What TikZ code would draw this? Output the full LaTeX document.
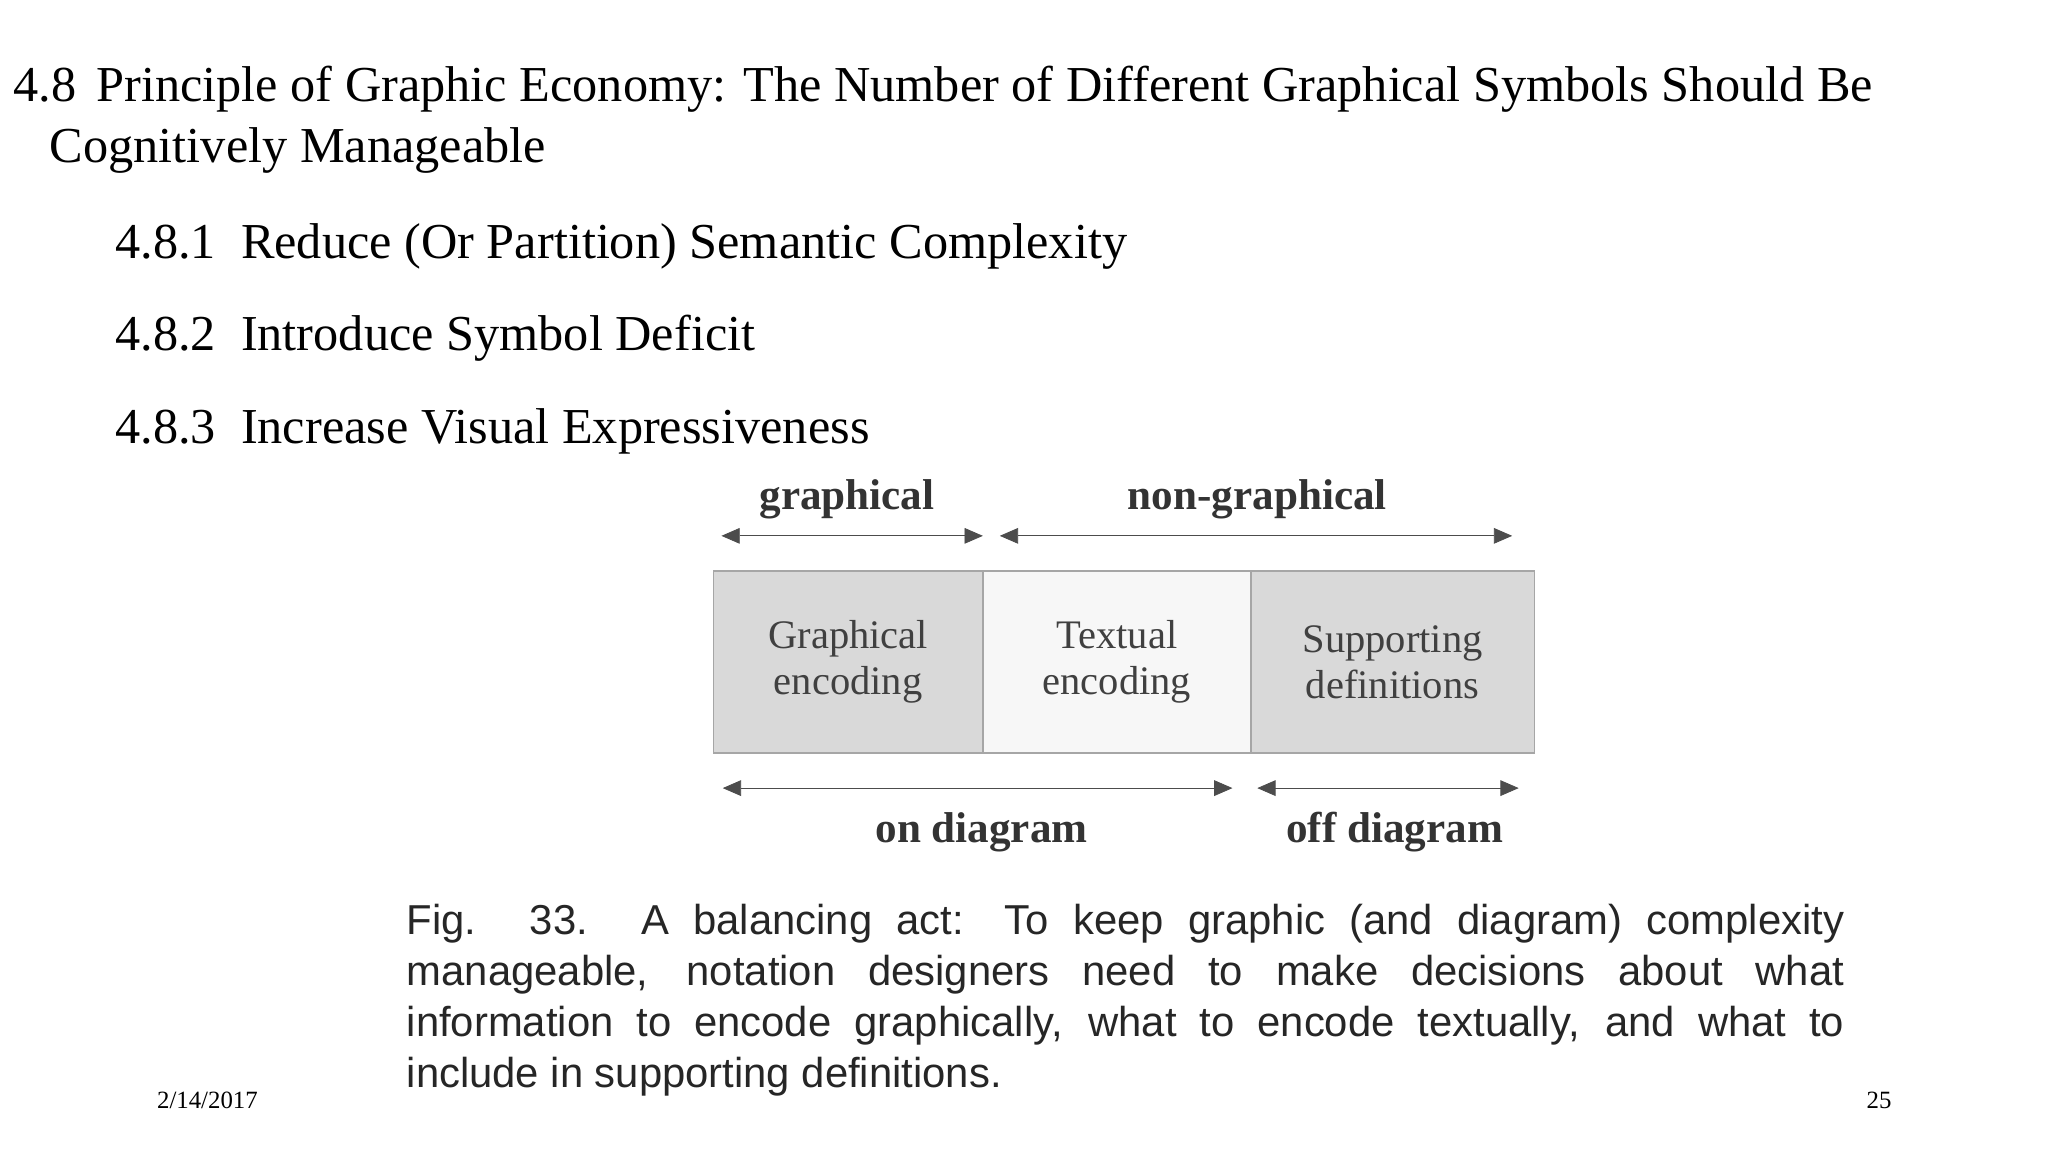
\documentclass[tikz,border=0pt]{standalone}
\usepackage{fontspec}
\setmainfont{Liberation Serif}
\newfontfamily\capfont{Liberation Sans}
\usetikzlibrary{arrows.meta}
\tikzset{
  head/.style={anchor=base west,inner sep=0,font=\fontsize{38.5}{44}\selectfont},
  cell/.style={draw=gray!70,line width=1.2pt,minimum height=139pt,inner sep=0,text=black!75,align=center,font=\fontsize{31}{35}\selectfont},
  lab/.style={font=\bfseries\fontsize{33}{36}\selectfont,text=black!80,inner sep=0},
  span/.style={{Triangle[length=14pt,width=12pt]}-{Triangle[length=14pt,width=12pt]},line width=0.6pt,gray!60!black},
}
\begin{document}
\begin{tikzpicture}[x=1pt,y=-1pt]
\useasboundingbox[fill=white] (0,0) rectangle (1567,881);
\node[head] (t1) at (10,78) {4.8\hspace{0.4em}Principle of Graphic Economy: The Number of Different Graphical Symbols Should Be};
\node[head] (t2) at (38,124) {Cognitively Manageable};
\node[head] (s1) at (88,198) {4.8.1\hspace{0.5em}Reduce (Or Partition) Semantic Complexity};
\node[head] (s2) at (88,268) {4.8.2\hspace{0.5em}Introduce Symbol Deficit};
\node[head] (s3) at (88,339) {4.8.3\hspace{0.5em}Increase Visual Expressiveness};

\node[cell,fill=gray!30,minimum width=206pt] (b1) at (649,506.5) {Graphical\\encoding};
\node[cell,fill=gray!6,minimum width=205pt] (b2) at (854.5,506.5) {Textual\\encoding};
\node[cell,fill=gray!30,minimum width=217pt] (b3) at (1065.5,506.5) {Supporting\\definitions};

\coordinate (ga) at (552,410); \coordinate (gb) at (752,410);
\coordinate (na) at (765,410); \coordinate (nb) at (1157,410);
\coordinate (oa) at (553,603); \coordinate (ob) at (943,603);
\coordinate (fa) at (962,603); \coordinate (fb) at (1162,603);
\draw[span] (ga) -- (gb);
\draw[span] (na) -- (nb);
\draw[span] (oa) -- (ob);
\draw[span] (fa) -- (fb);
\node[lab] (lg) at (648,382) {graphical};
\node[lab] (ln) at (962,382) {non-graphical};
\node[lab] (lo) at (751,637) {on diagram};
\node[lab] (lf) at (1067,637) {off diagram};

\node[anchor=north west,inner sep=0,text width=1100pt,align=justify,text=black!85,
  font=\capfont\fontsize{32}{39}\selectfont] (cap) at (311,692)
  {Fig. 33. A balancing act: To keep graphic (and diagram) complexity\linebreak
   manageable, notation designers need to make decisions about what\linebreak
   information to encode graphically, what to encode textually, and what to\linebreak
   include in supporting definitions.};
\node[anchor=base west,inner sep=0,font=\fontsize{19}{21}\selectfont] (date) at (120,848) {2/14/2017};
\node[anchor=base west,inner sep=0,font=\fontsize{19}{21}\selectfont] (pg) at (1428,848) {25};
\end{tikzpicture}
\end{document}
